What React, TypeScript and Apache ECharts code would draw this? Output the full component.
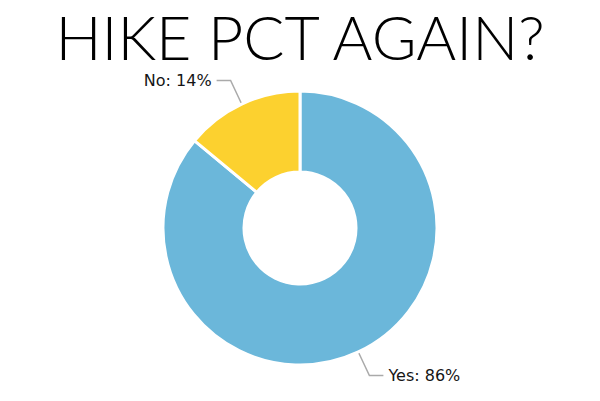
import { useEffect, useRef } from "react";
import * as echarts from "echarts";

const answers = ["Yes", "No"];
const shares = [86, 14];
const sliceColors = ["#6bb7da", "#fcd12f"];

export default function App() {
  const ref = useRef<HTMLDivElement | null>(null);

  useEffect(() => {
    if (!ref.current) {
      return;
    }
    const instance = echarts.init(ref.current, undefined, { renderer: "svg" });
    instance.setOption({
      animation: false,
      backgroundColor: "#ffffff",
      title: {
        text: "HIKE PCT AGAIN?",
        left: "center",
        top: 3,
        padding: 0,
        textStyle: {
          fontFamily: "Lato",
          fontWeight: 300,
          fontSize: 61,
          lineHeight: 66,
          color: "#000000"
        }
      },
      series: [
        {
          type: "pie",
          center: [300, 228],
          radius: [56, 137],
          startAngle: 90,
          clockwise: true,
          data: answers.map((name, i) => ({
            name,
            value: shares[i],
            itemStyle: { color: sliceColors[i] }
          })),
          itemStyle: { borderColor: "#ffffff", borderWidth: 3 },
          label: {
            formatter: "{b}: {c}%",
            fontFamily: "DejaVu Sans",
            fontSize: 16,
            color: "#151515"
          },
          labelLine: {
            length: 26,
            length2: 14,
            lineStyle: { color: "#aaaaaa", width: 1.5 }
          },
          emphasis: { disabled: true }
        }
      ]
    });
    return () => {
      instance.dispose();
    };
  }, []);

  return <div ref={ref} style={{ width: 600, height: 401, margin: -8 }} />;
}
